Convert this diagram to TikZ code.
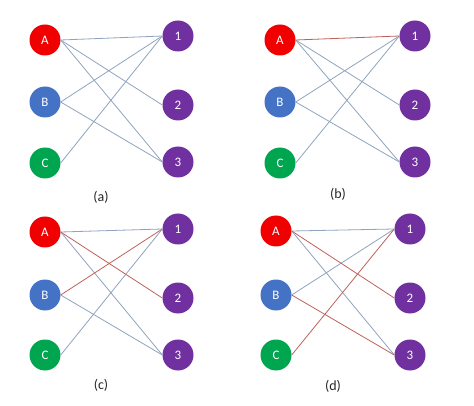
\documentclass[tikz,border=0pt]{standalone}
\usepackage{fontspec}
\setmainfont{Carlito}
\definecolor{nA}{HTML}{F00000}
\definecolor{nB}{HTML}{4472C4}
\definecolor{nC}{HTML}{00A550}
\definecolor{nP}{HTML}{7030A0}
\definecolor{eBlue}{HTML}{8FA3BE}
\definecolor{eRed}{HTML}{C0605A}
\tikzset{
  vtx/.style={circle, minimum size=31pt, inner sep=0pt, text=white, font=\fontsize{13}{15}\selectfont},
  ea/.style={vtx, fill=nA},
  eb/.style={vtx, fill=nB},
  ec/.style={vtx, fill=nC},
  ep/.style={vtx, fill=nP},
  ln/.style={draw=eBlue, line width=0.8pt},
  lr/.style={draw=eRed, line width=0.8pt},
  captxt/.style={font=\fontsize{14}{16}\selectfont, text=black!85}
}
\begin{document}
\begin{tikzpicture}[x=1pt,y=-1pt]
\useasboundingbox (0,0) rectangle (474,406);
% panel a
\node[ea] (aA) at (45,40) {A};
\node[eb] (aB) at (45,102) {B};
\node[ec] (aC) at (45,163) {C};
\node[ep] (a1) at (178,36) {1};
\node[ep] (a2) at (178,105) {2};
\node[ep] (a3) at (178,162) {3};
\node[captxt] (la) at (101,197) {(a)};
% panel b
\node[ea] (bA) at (280,40) {A};
\node[eb] (bB) at (280,102) {B};
\node[ec] (bC) at (280,163) {C};
\node[ep] (b1) at (415,36) {1};
\node[ep] (b2) at (415,105) {2};
\node[ep] (b3) at (415,162) {3};
\node[captxt] (lb) at (338,194) {(b)};
% panel c
\node[ea] (cA) at (45,232) {A};
\node[eb] (cB) at (45,295) {B};
\node[ec] (cC) at (45,355) {C};
\node[ep] (c1) at (178,229) {1};
\node[ep] (c2) at (178,298) {2};
\node[ep] (c3) at (178,355) {3};
\node[captxt] (lc) at (101,385) {(c)};
% panel d
\node[ea] (dA) at (276,231) {A};
\node[eb] (dB) at (276,295) {B};
\node[ec] (dC) at (276,355) {C};
\node[ep] (d1) at (410,229) {1};
\node[ep] (d2) at (410,298) {2};
\node[ep] (d3) at (410,355) {3};
\node[captxt] (ld) at (333,386) {(d)};
% edges a
\draw[ln] (aA.east) -- (a1.west);
\draw[ln] (aA.east) -- (a2.west);
\draw[ln] (aA.east) -- (a3.west);
\draw[ln] (aB.east) -- (a1.west);
\draw[ln] (aB.east) -- (a3.west);
\draw[ln] (aC.east) -- (a1.west);
% edges b
\draw[ln] (bA.east) -- (b2.west);
\draw[ln] (bA.east) -- (b3.west);
\draw[ln] (bB.east) -- (b1.west);
\draw[ln] (bB.east) -- (b3.west);
\draw[ln] (bC.east) -- (b1.west);
\draw[lr] (bA.east) -- (b1.west);
% edges c
\draw[ln] (cA.east) -- (c1.west);
\draw[ln] (cA.east) -- (c3.west);
\draw[ln] (cB.east) -- (c3.west);
\draw[ln] (cC.east) -- (c1.west);
\draw[lr] (cA.east) -- (c2.west);
\draw[lr] (cB.east) -- (c1.west);
% edges d
\draw[ln] (dA.east) -- (d1.west);
\draw[ln] (dA.east) -- (d3.west);
\draw[ln] (dB.east) -- (d1.west);
\draw[lr] (dA.east) -- (d2.west);
\draw[lr] (dB.east) -- (d3.west);
\draw[lr] (dC.east) -- (d1.west);
\end{tikzpicture}
\end{document}
